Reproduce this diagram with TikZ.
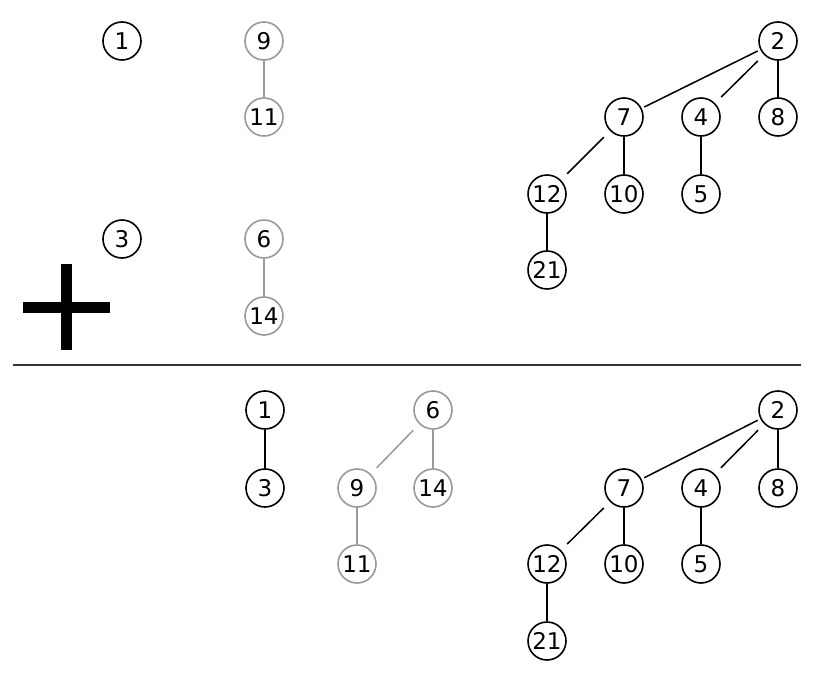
\documentclass[tikz,border=0pt]{standalone}
\usepackage{fontspec}
\setmainfont{DejaVu Sans}
\begin{document}
\begin{tikzpicture}[x=1pt,y=-1pt,
  nd/.style={rectangle, draw=none, inner sep=0pt, minimum size=40pt, font=\fontsize{23}{23}\selectfont,
    label={[circle, draw=#1, line width=1.6pt, minimum size=38pt, inner sep=0pt]center:{}}},
  nd/.default=black,
  gnd/.style={nd=gray!80},
  ed/.style={line width=1.5pt, black},
  ged/.style={line width=1.5pt, gray!80}]
\useasboundingbox (0,0) rectangle (820,677);
\fill[white] (0,0) rectangle (820,677);
% top-left
\node[nd] (a1) at (122,41) {1};
\node[nd] (a3) at (122,239) {3};
\node[gnd] (a9) at (264,41) {9};
\node[gnd] (a11) at (264,117) {11};
\node[gnd] (a6) at (264,239) {6};
\node[gnd] (a14) at (264,316) {14};
\draw[ged] (a9) -- (a11);
\draw[ged] (a6) -- (a14);
% top-right tree
\node[nd] (t2) at (778,41) {2};
\node[nd] (t7) at (624,117) {7};
\node[nd] (t4) at (701,117) {4};
\node[nd] (t8) at (778,117) {8};
\node[nd] (t12) at (547,194) {12};
\node[nd] (t10) at (624,194) {10};
\node[nd] (t5) at (701,194) {5};
\node[nd] (t21) at (547,270) {21};
\draw[ed] (t2) -- (t7);
\draw[ed] (t2) -- (t4);
\draw[ed] (t2) -- (t8);
\draw[ed] (t7) -- (t12);
\draw[ed] (t7) -- (t10);
\draw[ed] (t4) -- (t5);
\draw[ed] (t12) -- (t21);
% plus
\coordinate (pt) at (66.5,264);
\coordinate (pb) at (66.5,350);
\coordinate (pl) at (23,307.5);
\coordinate (pr) at (110,307.5);
\draw[line width=11pt] (pt) -- (pb);
\draw[line width=11pt] (pl) -- (pr);
% rule
\coordinate (rl) at (13,365);
\coordinate (rr) at (801,365);
\draw[line width=1.5pt, black!80] (rl) -- (rr);
% bottom
\node[nd] (b1) at (265,410) {1};
\node[nd] (b3) at (265,488) {3};
\draw[ed] (b1) -- (b3);
\node[gnd] (b6) at (433,410) {6};
\node[gnd] (b9) at (357,488) {9};
\node[gnd] (b14) at (433,488) {14};
\node[gnd] (b11) at (357,564) {11};
\draw[ged] (b6) -- (b9);
\draw[ged] (b6) -- (b14);
\draw[ged] (b9) -- (b11);
\node[nd] (c2) at (778,410) {2};
\node[nd] (c7) at (624,488) {7};
\node[nd] (c4) at (701,488) {4};
\node[nd] (c8) at (778,488) {8};
\node[nd] (c12) at (547,564) {12};
\node[nd] (c10) at (624,564) {10};
\node[nd] (c5) at (701,564) {5};
\node[nd] (c21) at (547,641) {21};
\draw[ed] (c2) -- (c7);
\draw[ed] (c2) -- (c4);
\draw[ed] (c2) -- (c8);
\draw[ed] (c7) -- (c12);
\draw[ed] (c7) -- (c10);
\draw[ed] (c4) -- (c5);
\draw[ed] (c12) -- (c21);
\end{tikzpicture}
\end{document}
